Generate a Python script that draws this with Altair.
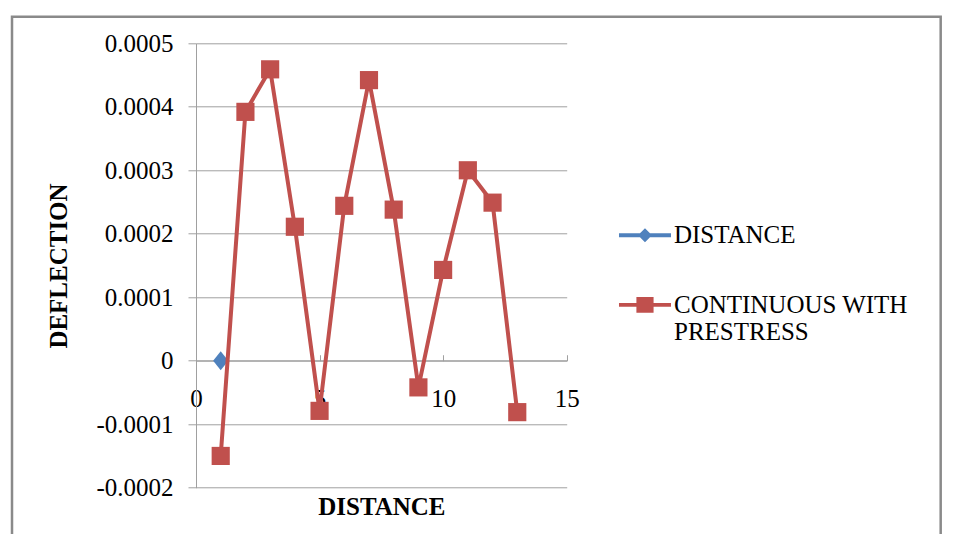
import altair as alt
import pandas as pd

# ---- data ----
series_names = ["DISTANCE", "CONTINUOUS WITH PRESTRESS"]
series_colors = ["#4F81BD", "#C0504D"]
distance_x = [1]
distance_y = [0.0]
prestress_x = [1, 2, 3, 4, 5, 6, 7, 8, 9, 10, 11, 12, 13]
prestress_y = [-0.000150, 0.000392, 0.000459, 0.000211, -0.000079, 0.000244,
               0.000442, 0.000238, -0.000042, 0.000143, 0.000300, 0.000249,
               -0.000081]
x_ticks = [0, 5, 10, 15]
y_ticks = [-0.0002, -0.0001, 0, 0.0001, 0.0002, 0.0003, 0.0004, 0.0005]
x_domain = [0, 15]
y_domain = [-0.0002, 0.0005]

df = pd.DataFrame({
    "x": distance_x + prestress_x,
    "y": distance_y + prestress_y,
    "series": [series_names[0]] * len(distance_x) + [series_names[1]] * len(prestress_x),
})

# ---- styling ----
W, H = 370.7, 444.4
FONT = "Liberation Serif"
GRID = "#a0a0a0"
zero_from_bottom = H * (0 - y_domain[0]) / (y_domain[1] - y_domain[0])
zero_from_top = H - zero_from_bottom

xscale = alt.Scale(domain=x_domain, nice=False, zero=False)
yscale = alt.Scale(domain=y_domain, nice=False, zero=False)
cscale = alt.Scale(domain=series_names, range=series_colors)

legend_diamond = "M-1,-0.075H1V0.075H-1Z M-0.27,0L0,-0.27L0.27,0L0,0.27Z"
legend_square = "M-1,-0.075H1V0.075H-1Z M-0.33,-0.3H0.33V0.3H-0.33Z"
plot_diamond = "M0,-1.25L1,0L0,1.25L-1,0Z"

y_label_expr = ("datum.value == 0 ? '0' : (datum.value < 0 ? '-' + format(-datum.value, '.4f')"
                " : format(datum.value, '.4f'))")
legend_label_expr = ("datum.label == 'CONTINUOUS WITH PRESTRESS' ? "
                     "['CONTINUOUS WITH', 'PRESTRESS'] : datum.label")

base = alt.Chart(df)

border = alt.Chart(pd.DataFrame({"k": [0]})).mark_rect(
    fill="transparent", fillOpacity=0, stroke="#8a8a8a", strokeWidth=2.5
).encode(
    x=alt.value(-184), x2=alt.value(744.7), y=alt.value(-26.6), y2=alt.value(560)
)

# blue series; also carries the upward tick marks of the x axis at y = 0
blue = base.transform_filter(alt.datum.series == series_names[0]).mark_point(
    filled=True, opacity=1, size=230, shape=plot_diamond, color=series_colors[0]
).encode(
    x=alt.X("x:Q", scale=xscale, axis=alt.Axis(
        orient="top", offset=-zero_from_top, values=x_ticks, labels=False,
        domain=False, grid=False, ticks=True, tickSize=6, tickColor=GRID,
        title=None)),
    y=alt.Y("y:Q", scale=yscale),
)

line = base.transform_filter(alt.datum.series == series_names[1]).mark_line(
    strokeWidth=4, color=series_colors[1]
).encode(
    x=alt.X("x:Q", scale=xscale, axis=alt.Axis(
        orient="bottom", offset=-zero_from_bottom, values=x_ticks, format="d",
        grid=False, ticks=False, domainColor=GRID, domainWidth=1,
        labelFont=FONT, labelFontSize=25, labelColor="black", labelPadding=26,
        labelFlush=False, labelOverlap=False,
        title="DISTANCE", titleFont=FONT, titleFontSize=25, titleFontWeight="bold",
        titleColor="black", titlePadding=83)),
    y=alt.Y("y:Q", scale=yscale, axis=alt.Axis(
        orient="left", values=y_ticks, labelExpr=y_label_expr, grid=True, gridColor=GRID,
        gridWidth=1, tickColor=GRID, tickSize=8, domainColor=GRID, domainWidth=1,
        labelFont=FONT, labelFontSize=25, labelColor="black", labelPadding=15,
        labelFlush=False, labelOverlap=False,
        title="DEFLECTION", titleFont=FONT, titleFontSize=25,
        titleFontWeight="bold", titleColor="black", titlePadding=24)),
)

red_pts = base.transform_filter(alt.datum.series == series_names[1]).mark_point(
    filled=True, opacity=1, size=330, shape="square", color=series_colors[1]
).encode(
    x=alt.X("x:Q", scale=xscale, axis=None),
    y=alt.Y("y:Q", scale=yscale),
)

leg = alt.Legend(
    orient="none", legendX=423, legendY=166, title=None, padding=0,
    symbolSize=2704, symbolStrokeWidth=0, symbolOpacity=1,
    labelFont=FONT, labelFontSize=25, labelColor="black", labelLimit=400,
    labelOffset=3, rowPadding=30.6, labelExpr=legend_label_expr,
)

legend_layer = base.mark_point(filled=True, opacity=0, size=10).encode(
    x=alt.X("x:Q", scale=xscale, axis=None),
    y=alt.Y("y:Q", scale=yscale),
    color=alt.Color("series:N", scale=cscale, legend=leg),
    shape=alt.Shape("series:N", scale=alt.Scale(domain=series_names,
                    range=[legend_diamond, legend_square]), legend=leg),
)

chart = alt.layer(blue, line, red_pts, legend_layer, border).properties(
    width=W, height=H,
    autosize=alt.AutoSizeParams(type="none"),
    padding={"left": 188, "top": 35.3, "right": 380, "bottom": 46},
    background="white",
).configure_view(stroke="transparent")

chart.save("out.html", embed_options={"renderer": "svg", "actions": False})
